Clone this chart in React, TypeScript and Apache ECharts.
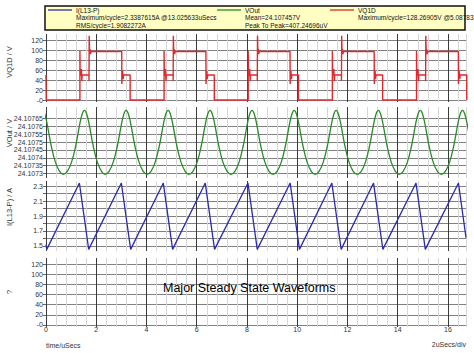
import React, { useEffect, useRef } from 'react';
import * as echarts from 'echarts';

const FONT = '"Liberation Sans", Arial, sans-serif';

// ---- axes ----
const X_MAX = 16.72;
const xTickLabels = [0, 2, 4, 6, 8, 10, 12, 14, 16];
const vq1dTicks = [0, 20, 40, 60, 80, 100, 120];
const voutTicks = [24.1073, 24.10735, 24.1074, 24.10745, 24.1075, 24.10755, 24.1076, 24.10765];
const iTicks = [1.5, 1.6, 1.7, 1.8, 1.9, 2.0, 2.1, 2.2, 2.3];
const iTickLabels = [1.5, 1.7, 1.9, 2.1, 2.3];
const blankTicks = [0, 20, 40, 60, 80, 100, 120];

// ---- VQ1D (V) ----
const vq1dLead = [[0, 50], [0.01, 0]];
const vq1dRiseTimes = [1.35, 4.7, 8.05, 11.4, 14.75];
const vq1dPulseOffsets = [0, 0, 0.01, 0.05, 0.06, 0.075, 0.09, 0.36, 0.362, 0.37, 0.385, 0.4, 0.42, 0.44, 1.665, 1.67, 1.685, 1.7, 1.72, 1.74, 2.0, 2.0];
const vq1dPulseValues = [0, 98, 50, 50, 62, 38, 50, 50, 38, 128.27, 96, 102, 92, 97, 97, 32, 50, 58, 42, 50, 50, 0];

// ---- VOut (V) ----
const voutPeakTimes = [-0.14, 1.53, 3.19, 4.86, 6.53, 8.2, 9.88, 11.55, 13.23, 14.9, 16.58];
const voutShapeOffsets = [-0.84, -0.68, -0.51, -0.35, -0.19, -0.09, 0, 0.09, 0.19, 0.35, 0.51, 0.68];
const voutShapeValues = [24.107295, 24.107314, 24.107374, 24.107475, 24.107611, 24.107679, 24.107702, 24.107679, 24.107611, 24.107475, 24.107374, 24.107314];

// ---- I(L13-P) (A) ----
const iTimes = [0, 0.03, 1.33, 1.7, 3.0, 3.37, 4.67, 5.04, 6.34, 6.71, 8.04, 8.41, 9.72, 10.09, 11.38, 11.75, 13.04, 13.41, 14.73, 15.1, 16.42, 16.72];
const iValues = [1.52, 1.455, 2.339, 1.455, 2.339, 1.455, 2.339, 1.455, 2.339, 1.455, 2.339, 1.455, 2.339, 1.455, 2.339, 1.455, 2.339, 1.455, 2.339, 1.455, 2.339, 1.61];

const legendRows = [
  { name: 'I(L13-P)', color: '#2b2bb0', x: 48, lines: ['Maximum/cycle=2.3387615A @13.025633uSecs', 'RMS/cycle=1.9082272A'] },
  { name: 'VOut', color: '#2a8a2a', x: 217, lines: ['Mean=24.107457V', 'Peak To Peak=407.24696uV'] },
  { name: 'VQ1D', color: '#e0282e', x: 330, lines: ['Maximum/cycle=128.26905V @5.087833uSecs'] },
];

const panelTitles = [
  { text: 'VQ1D / V', y: 62 },
  { text: 'VOut / V', y: 133 },
  { text: 'I(L13-P) / A', y: 207 },
  { text: '?', y: 292 },
];

export default function App() {
  const ref = useRef<HTMLDivElement>(null);
  useEffect(() => {
    if (!ref.current) return;
    const chart = echarts.init(ref.current, undefined, { renderer: 'svg' });

    const vq1dData: number[][] = [...vq1dLead];
    vq1dRiseTimes.forEach((tr) => {
      vq1dPulseOffsets.forEach((o, k) => vq1dData.push([tr + o, vq1dPulseValues[k]]));
    });
    const voutData: number[][] = [];
    voutPeakTimes.forEach((tp) => {
      voutShapeOffsets.forEach((o, k) => voutData.push([tp + o, voutShapeValues[k]]));
    });
    const iData = iTimes.map((t, k) => [t, iValues[k]]);

    const grids = [
      { left: 46, width: 420, top: 34, height: 68 },
      { left: 46, width: 420, top: 107, height: 71 },
      { left: 46, width: 420, top: 181, height: 70 },
      { left: 46, width: 420, top: 258, height: 69 },
    ];
    const yRanges = [[-4, 132], [24.1072714, 24.1077232], [1.4333, 2.3667], [-4, 132]];
    const yTickSets = [vq1dTicks, voutTicks, iTicks, blankTicks];
    const yLabelSets = [vq1dTicks, voutTicks, iTickLabels, blankTicks];
    const yFormatters = [
      (v: number) => (Math.abs(v) < 1e-9 ? '-0' : String(Math.round(v))),
      (v: number) => v.toFixed(5).replace(/0+$/, ''),
      (v: number) => v.toFixed(1),
      (v: number) => (Math.abs(v) < 1e-9 ? '-0' : String(Math.round(v))),
    ];

    const light = '#d6d6d6';
    const xAxes = grids.map((_, i) => ({
      type: 'value',
      gridIndex: i,
      min: 0,
      max: X_MAX,
      interval: 0.4,
      axisLine: { show: false },
      axisTick: { show: false },
      axisLabel: i === 3
        ? { show: true, customValues: xTickLabels, fontSize: 7, color: '#333', margin: -1, fontFamily: FONT, formatter: (v: number) => String(Math.round(v)) }
        : { show: false },
      splitLine: { show: true, lineStyle: { color: ['#3c3c3c', light, light, light, light], width: 1 } },
    }));
    const yAxes = grids.map((_, i) => ({
      type: 'value',
      gridIndex: i,
      min: yRanges[i][0],
      max: yRanges[i][1],
      axisLine: { show: false },
      axisTick: { show: true, customValues: yTickSets[i], length: 3, lineStyle: { color: '#666' } },
      axisLabel: { show: true, customValues: yLabelSets[i], formatter: yFormatters[i], fontSize: 7, color: '#333', margin: 3, fontFamily: FONT },
      splitLine: { show: true, lineStyle: { color: '#808080', width: 1 } },
    }));

    const graphics: any[] = [
      { type: 'rect', shape: { x: 45, y: 6, width: 420, height: 24 }, style: { fill: '#ffffc4', stroke: '#111', lineWidth: 1.5 }, z: 10 },
    ];
    legendRows.forEach((r) => {
      graphics.push({ type: 'line', shape: { x1: r.x, y1: 10, x2: r.x + 24, y2: 10 }, style: { stroke: r.color, lineWidth: 1.3 }, z: 11 });
      graphics.push({ type: 'text', x: r.x + 28, y: 10, style: { text: r.name, fill: '#111', fontSize: 6.5, fontFamily: FONT, align: 'left', verticalAlign: 'middle' }, z: 11 });
      r.lines.forEach((ln, k) => {
        graphics.push({ type: 'text', x: r.x + 28, y: 17.7 + k * 7.3, style: { text: ln, fill: '#111', fontSize: 6.5, fontFamily: FONT, align: 'left', verticalAlign: 'middle' }, z: 11 });
      });
    });
    panelTitles.forEach((p) => {
      graphics.push({ type: 'text', x: 9.5, y: p.y, rotation: Math.PI / 2, style: { text: p.text, fill: '#333', fontSize: 7.5, fontFamily: FONT, align: 'center', verticalAlign: 'middle' }, z: 11 });
    });
    graphics.push({ type: 'text', x: 163, y: 288, style: { text: 'Major Steady State Waveforms', fill: '#000', fontSize: 12.5, fontFamily: FONT, align: 'left', verticalAlign: 'middle' }, z: 11 });
    graphics.push({ type: 'text', x: 46, y: 345, style: { text: 'time/uSecs', fill: '#333', fontSize: 7, fontFamily: FONT, align: 'left', verticalAlign: 'middle' }, z: 11 });
    graphics.push({ type: 'text', x: 466, y: 344, style: { text: '2uSecs/div', fill: '#333', fontSize: 7, fontFamily: FONT, align: 'right', verticalAlign: 'middle' }, z: 11 });

    chart.setOption({
      animation: false,
      backgroundColor: '#fff',
      grid: grids,
      xAxis: xAxes,
      yAxis: yAxes,
      graphic: graphics,
      series: [
        { type: 'line', xAxisIndex: 0, yAxisIndex: 0, data: vq1dData, symbol: 'none', silent: true, lineStyle: { color: '#e0282e', width: 1.4 } },
        { type: 'line', xAxisIndex: 1, yAxisIndex: 1, data: voutData, symbol: 'none', silent: true, smooth: 0.4, lineStyle: { color: '#2a8a2a', width: 1.3 } },
        { type: 'line', xAxisIndex: 2, yAxisIndex: 2, data: iData, symbol: 'none', silent: true, lineStyle: { color: '#2b2bb0', width: 1.3 } },
      ],
    });
    return () => chart.dispose();
  }, []);
  return <div ref={ref} style={{ position: 'absolute', left: 0, top: 0, width: 474, height: 353, background: '#fff' }} />;
}
